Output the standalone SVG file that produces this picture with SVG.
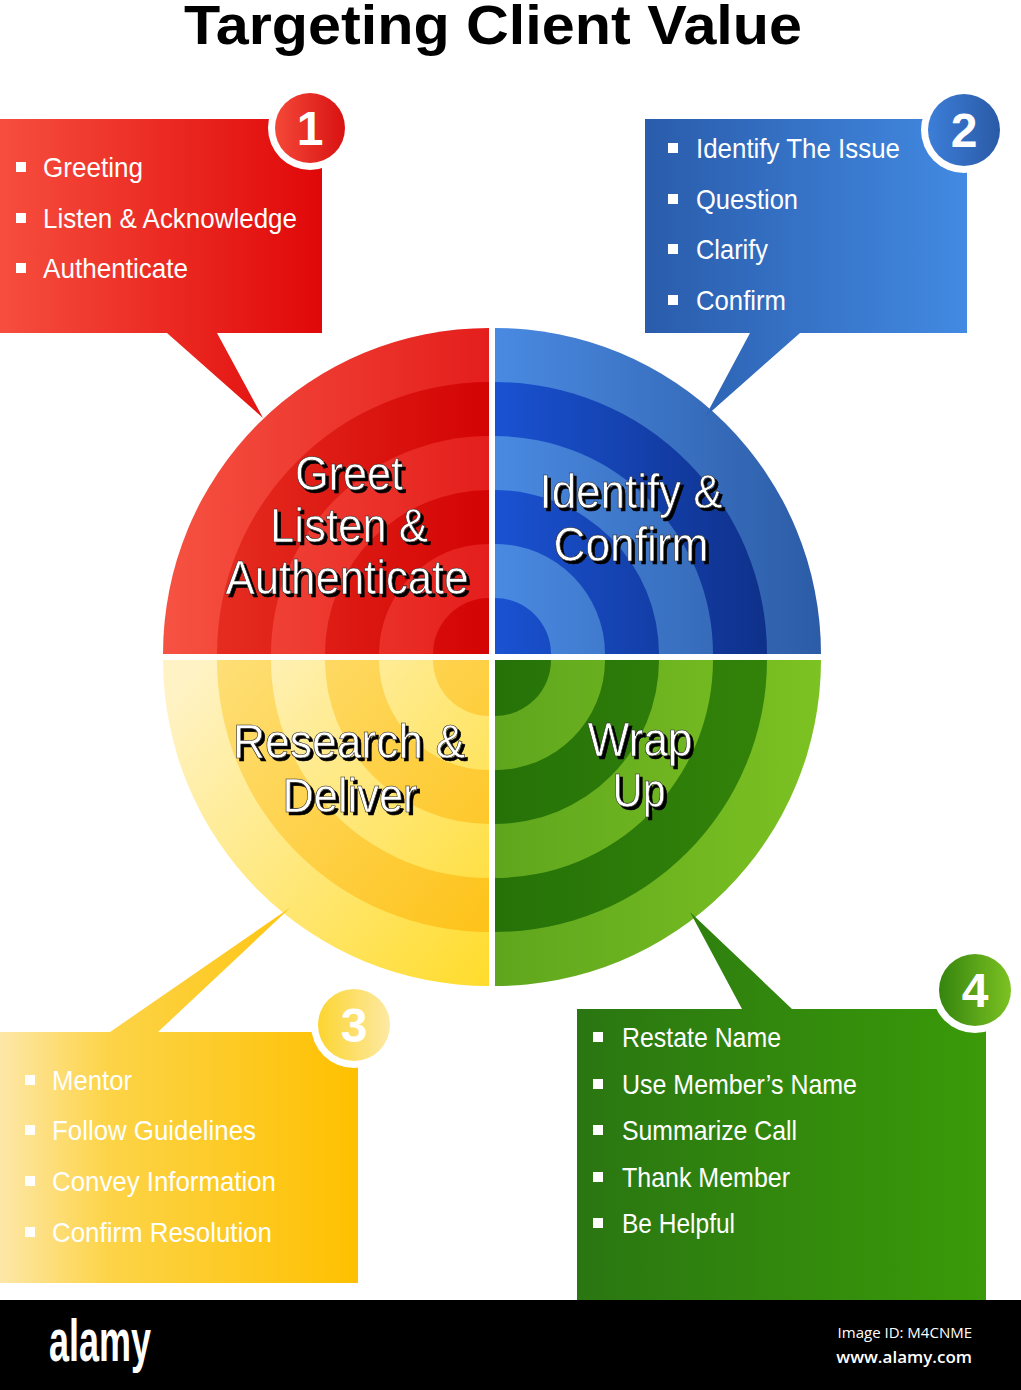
<svg xmlns="http://www.w3.org/2000/svg" width="1021" height="1390" viewBox="0 0 1021 1390">
<style>
.title{font-family:"Liberation Sans",Arial,sans-serif;font-weight:bold;font-size:56px;fill:#000}
.item{font-family:"Liberation Sans",Arial,sans-serif;font-size:28px;fill:#fff}
.bul{fill:#fff}
.lbl{font-family:"Liberation Sans",Arial,sans-serif;font-size:48px;fill:#fff;text-anchor:middle;stroke:#222;stroke-width:0.6;filter:url(#shadow)}
.num{font-family:"Liberation Sans",Arial,sans-serif;font-weight:bold;font-size:48px;fill:#fff;text-anchor:middle}
.ring{fill:#fff}
.band{fill:#000}
.logo{font-family:"Liberation Sans",Arial,sans-serif;font-weight:bold;font-size:60px;fill:#fff}
.imgid{font-family:"Open Sans","Liberation Sans",sans-serif;font-size:15px;fill:#fff;text-anchor:end}
.url{font-family:"Open Sans","Liberation Sans",sans-serif;font-weight:600;font-size:17px;fill:#fff;text-anchor:end}
</style>
<defs>
<filter id="shadow" x="-10%" y="-20%" width="130%" height="150%">
<feDropShadow dx="3" dy="3" stdDeviation="0.3" flood-color="#000" flood-opacity="1"/>
</filter>
<linearGradient id="rL" gradientUnits="userSpaceOnUse" x1="164" y1="0" x2="489" y2="0"><stop offset="0" stop-color="#f65242"/><stop offset="1" stop-color="#e41e1c"/></linearGradient>
<linearGradient id="rD" gradientUnits="userSpaceOnUse" x1="164" y1="0" x2="489" y2="0"><stop offset="0" stop-color="#e93426"/><stop offset="1" stop-color="#d30404"/></linearGradient>
<linearGradient id="bL" gradientUnits="userSpaceOnUse" x1="495" y1="0" x2="820" y2="0"><stop offset="0" stop-color="#4a8ae2"/><stop offset="1" stop-color="#2c5ca6"/></linearGradient>
<linearGradient id="bD" gradientUnits="userSpaceOnUse" x1="495" y1="0" x2="820" y2="0"><stop offset="0" stop-color="#1a52d2"/><stop offset="1" stop-color="#0c2a7c"/></linearGradient>
<linearGradient id="yL" gradientUnits="userSpaceOnUse" x1="164" y1="700" x2="489" y2="984"><stop offset="0" stop-color="#fff3c6"/><stop offset="1" stop-color="#ffdc2c"/></linearGradient>
<linearGradient id="yD" gradientUnits="userSpaceOnUse" x1="164" y1="700" x2="489" y2="984"><stop offset="0" stop-color="#fee07a"/><stop offset="1" stop-color="#fec010"/></linearGradient>
<linearGradient id="gL" gradientUnits="userSpaceOnUse" x1="495" y1="0" x2="820" y2="0"><stop offset="0" stop-color="#5fa61e"/><stop offset="1" stop-color="#7cc222"/></linearGradient>
<linearGradient id="gD" gradientUnits="userSpaceOnUse" x1="495" y1="0" x2="820" y2="0"><stop offset="0" stop-color="#267208"/><stop offset="1" stop-color="#35860a"/></linearGradient>
<linearGradient id="rBox" gradientUnits="userSpaceOnUse" x1="0" y1="0" x2="322" y2="0"><stop offset="0" stop-color="#f64e3e"/><stop offset="1" stop-color="#e00808"/></linearGradient>
<linearGradient id="bBox" gradientUnits="userSpaceOnUse" x1="645" y1="0" x2="967" y2="0"><stop offset="0" stop-color="#2a5cab"/><stop offset="1" stop-color="#428ae2"/></linearGradient>
<linearGradient id="yBox" gradientUnits="userSpaceOnUse" x1="0" y1="0" x2="358" y2="0"><stop offset="0" stop-color="#fde7a8"/><stop offset="0.3" stop-color="#fdd448"/><stop offset="1" stop-color="#fec000"/></linearGradient>
<linearGradient id="gBox" gradientUnits="userSpaceOnUse" x1="577" y1="0" x2="986" y2="0"><stop offset="0" stop-color="#2a7612"/><stop offset="1" stop-color="#3a9a08"/></linearGradient>
<linearGradient id="rNum" x1="0" y1="0" x2="1" y2="0"><stop offset="0" stop-color="#f44838"/><stop offset="1" stop-color="#d81212"/></linearGradient>
<linearGradient id="bNum" x1="0" y1="0" x2="1" y2="0"><stop offset="0" stop-color="#3c7ed8"/><stop offset="1" stop-color="#2a5aa6"/></linearGradient>
<linearGradient id="yNum" x1="0" y1="0" x2="1" y2="0"><stop offset="0" stop-color="#fcd530"/><stop offset="1" stop-color="#fde9a4"/></linearGradient>
<linearGradient id="gNum" x1="0" y1="0" x2="1" y2="0"><stop offset="0" stop-color="#35840e"/><stop offset="1" stop-color="#7cc222"/></linearGradient>
<clipPath id="cR"><rect x="150" y="310" width="339" height="344"/></clipPath>
<clipPath id="cB"><rect x="495" y="310" width="340" height="344"/></clipPath>
<clipPath id="cY"><rect x="150" y="660" width="339" height="340"/></clipPath>
<clipPath id="cG"><rect x="495" y="660" width="340" height="340"/></clipPath>
</defs>
<rect width="1021" height="1390" fill="#fff"/>
<text class="title" x="184" y="44" textLength="618" lengthAdjust="spacingAndGlyphs">Targeting Client Value</text>

<g id="wheel">
<g id="q-red" clip-path="url(#cR)">
<circle cx="489" cy="654" r="326" fill="url(#rL)"/><circle cx="489" cy="654" r="272" fill="url(#rD)"/><circle cx="489" cy="654" r="218" fill="url(#rL)"/><circle cx="489" cy="654" r="164" fill="url(#rD)"/><circle cx="489" cy="654" r="110" fill="url(#rL)"/><circle cx="489" cy="654" r="56" fill="url(#rD)"/>
</g>
<g id="q-blue" clip-path="url(#cB)">
<circle cx="495" cy="654" r="326" fill="url(#bL)"/><circle cx="495" cy="654" r="272" fill="url(#bD)"/><circle cx="495" cy="654" r="218" fill="url(#bL)"/><circle cx="495" cy="654" r="164" fill="url(#bD)"/><circle cx="495" cy="654" r="110" fill="url(#bL)"/><circle cx="495" cy="654" r="56" fill="url(#bD)"/>
</g>
<g id="q-yellow" clip-path="url(#cY)">
<circle cx="489" cy="660" r="326" fill="url(#yL)"/><circle cx="489" cy="660" r="272" fill="url(#yD)"/><circle cx="489" cy="660" r="218" fill="url(#yL)"/><circle cx="489" cy="660" r="164" fill="url(#yD)"/><circle cx="489" cy="660" r="110" fill="url(#yL)"/><circle cx="489" cy="660" r="56" fill="url(#yD)"/>
</g>
<g id="q-green" clip-path="url(#cG)">
<circle cx="495" cy="660" r="326" fill="url(#gL)"/><circle cx="495" cy="660" r="272" fill="url(#gD)"/><circle cx="495" cy="660" r="218" fill="url(#gL)"/><circle cx="495" cy="660" r="164" fill="url(#gD)"/><circle cx="495" cy="660" r="110" fill="url(#gL)"/><circle cx="495" cy="660" r="56" fill="url(#gD)"/>
</g>
</g>

<g id="label-red">
<text class="lbl" x="349" y="490" textLength="108" lengthAdjust="spacingAndGlyphs">Greet</text>
<text class="lbl" x="349" y="542" textLength="158" lengthAdjust="spacingAndGlyphs">Listen &amp;</text>
<text class="lbl" x="347" y="594" textLength="243" lengthAdjust="spacingAndGlyphs">Authenticate</text>
</g>
<g id="label-blue">
<text class="lbl" x="631" y="508" textLength="183" lengthAdjust="spacingAndGlyphs">Identify &amp;</text>
<text class="lbl" x="631" y="561" textLength="155" lengthAdjust="spacingAndGlyphs">Confirm</text>
</g>
<g id="label-yellow">
<text class="lbl" x="349" y="758" textLength="232" lengthAdjust="spacingAndGlyphs">Research &amp;</text>
<text class="lbl" x="350" y="812" textLength="135" lengthAdjust="spacingAndGlyphs">Deliver</text>
</g>
<g id="label-green">
<text class="lbl" x="640" y="756" textLength="105" lengthAdjust="spacingAndGlyphs">Wrap</text>
<text class="lbl" x="639" y="807" textLength="53" lengthAdjust="spacingAndGlyphs">Up</text>
</g>

<g id="connectors">
<path d="M0,119 H322 V333 H217 L263,418 L167,333 H0 Z" fill="url(#rBox)"/>
<path d="M645,119 H967 V333 H800 L705,417 L750,333 H645 Z" fill="url(#bBox)"/>
<path d="M0,1032 H110 L291,907 L158,1032 H358 V1283 H0 Z" fill="url(#yBox)"/>
<path d="M577,1009 H742 L690,912 L792,1009 H986 V1300 H577 Z" fill="url(#gBox)"/>
</g>

<g id="box-1">
<rect class="bul" x="16" y="162" width="10" height="10"/><text class="item" x="43" y="177" textLength="100" lengthAdjust="spacingAndGlyphs">Greeting</text>
<rect class="bul" x="16" y="213" width="10" height="10"/><text class="item" x="43" y="228" textLength="254" lengthAdjust="spacingAndGlyphs">Listen &amp; Acknowledge</text>
<rect class="bul" x="16" y="263" width="10" height="10"/><text class="item" x="43" y="278" textLength="145" lengthAdjust="spacingAndGlyphs">Authenticate</text>
<circle class="ring" cx="310" cy="128" r="42"/><circle cx="310" cy="128" r="35" fill="url(#rNum)"/><text class="num" x="310" y="145">1</text>
</g>
<g id="box-2">
<rect class="bul" x="668" y="143" width="10" height="10"/><text class="item" x="696" y="158" textLength="204" lengthAdjust="spacingAndGlyphs">Identify The Issue</text>
<rect class="bul" x="668" y="194" width="10" height="10"/><text class="item" x="696" y="209" textLength="102" lengthAdjust="spacingAndGlyphs">Question</text>
<rect class="bul" x="668" y="244" width="10" height="10"/><text class="item" x="696" y="259" textLength="72" lengthAdjust="spacingAndGlyphs">Clarify</text>
<rect class="bul" x="668" y="295" width="10" height="10"/><text class="item" x="696" y="310" textLength="90" lengthAdjust="spacingAndGlyphs">Confirm</text>
<circle class="ring" cx="964" cy="130" r="43"/><circle cx="964" cy="130" r="36" fill="url(#bNum)"/><text class="num" x="964" y="147">2</text>
</g>
<g id="box-3">
<rect class="bul" x="25" y="1075" width="10" height="10"/><text class="item" x="52" y="1090" textLength="80" lengthAdjust="spacingAndGlyphs">Mentor</text>
<rect class="bul" x="25" y="1125" width="10" height="10"/><text class="item" x="52" y="1140" textLength="204" lengthAdjust="spacingAndGlyphs">Follow Guidelines</text>
<rect class="bul" x="25" y="1176" width="10" height="10"/><text class="item" x="52" y="1191" textLength="224" lengthAdjust="spacingAndGlyphs">Convey Information</text>
<rect class="bul" x="25" y="1227" width="10" height="10"/><text class="item" x="52" y="1242" textLength="220" lengthAdjust="spacingAndGlyphs">Confirm Resolution</text>
<circle class="ring" cx="354" cy="1025" r="43"/><circle cx="354" cy="1025" r="36" fill="url(#yNum)"/><text class="num" x="354" y="1042">3</text>
</g>
<g id="box-4">
<rect class="bul" x="593" y="1032" width="10" height="10"/><text class="item" x="622" y="1047" textLength="159" lengthAdjust="spacingAndGlyphs">Restate Name</text>
<rect class="bul" x="593" y="1079" width="10" height="10"/><text class="item" x="622" y="1094" textLength="235" lengthAdjust="spacingAndGlyphs">Use Member’s Name</text>
<rect class="bul" x="593" y="1125" width="10" height="10"/><text class="item" x="622" y="1140" textLength="175" lengthAdjust="spacingAndGlyphs">Summarize Call</text>
<rect class="bul" x="593" y="1172" width="10" height="10"/><text class="item" x="622" y="1187" textLength="168" lengthAdjust="spacingAndGlyphs">Thank Member</text>
<rect class="bul" x="593" y="1218" width="10" height="10"/><text class="item" x="622" y="1233" textLength="113" lengthAdjust="spacingAndGlyphs">Be Helpful</text>
<circle class="ring" cx="975" cy="990" r="43"/><circle cx="975" cy="990" r="36" fill="url(#gNum)"/><text class="num" x="975" y="1007">4</text>
</g>

<g id="footer">
<rect class="band" x="0" y="1300" width="1021" height="90"/>
<text class="logo" x="49" y="1361" textLength="102" lengthAdjust="spacingAndGlyphs">alamy</text>
<text class="imgid" x="972" y="1338">Image ID: M4CNME</text>
<text class="url" x="972" y="1363">www.alamy.com</text>
</g>
</svg>
